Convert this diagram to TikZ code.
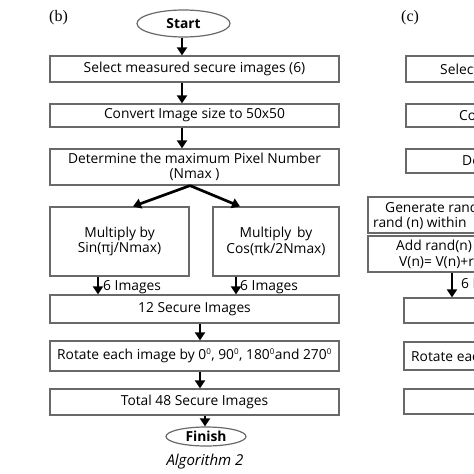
\documentclass[tikz,border=0pt]{standalone}
\usepackage{fontspec}
\setmainfont{Open Sans}
\newfontfamily\serifb{Liberation Serif}
\usetikzlibrary{arrows.meta,shapes.geometric}
\definecolor{boxgray}{RGB}{105,105,105}
\newcommand{\fs}{\fontsize{13.8bp}{15.5bp}\selectfont}
\newcommand{\dg}{\textsuperscript{\fontsize{8bp}{8bp}\selectfont 0}}
\begin{document}
\begin{tikzpicture}[x=1bp,y=-1bp,
  box/.style={draw=boxgray, line width=1.2bp, fill=white, inner sep=0pt, align=center, font=\fs},
  txt/.style={inner sep=0pt, font=\fs, anchor=west},
  panel/.style={inner sep=0pt, anchor=west, font=\serifb\fontsize{16bp}{18bp}\selectfont},
  arr/.style={line width=2.7bp, -{Triangle[width=10bp,length=8bp]}},
  oval/.style={ellipse, draw=boxgray, line width=1.2bp, inner sep=0pt, font=\bfseries\fs}]
\fill[white] (0,0) rectangle (474,474);
\useasboundingbox (0,0) rectangle (474,474);
\clip (0,0) rectangle (474,474);
% ---------- panel (b)
\node[panel] (lb) at (49,18) {(b)};
\node[oval, minimum width=93bp, minimum height=27bp] (start) at (183.5,23.5) {Start};
\node[box, minimum width=289bp, minimum height=26bp] (b1) at (194.5,69) {Select measured secure images (6)};
\node[box, minimum width=289bp, minimum height=23bp] (b2) at (194.5,115.5) {Convert Image size to 50x50};
\node[box, minimum width=289bp, minimum height=36bp] (b3) at (194.5,167) {Determine the maximum Pixel Number\\(Nmax )};
\node[box, minimum width=139bp, minimum height=69bp] (bl) at (119.5,241.5) {Multiply by\\Sin(πj/Nmax)};
\node[box, minimum width=126bp, minimum height=69bp] (br) at (276,241.5) {Multiply\, by\\Cos(πk/2Nmax)};
\node[box, minimum width=289bp, minimum height=28bp] (b4) at (194.5,309) {12 Secure Images};
\node[box, minimum width=289bp, minimum height=30bp] (b5) at (194.5,356) {Rotate each image by 0\dg, 90\dg, 180\dg and 270\dg};
\node[box, minimum width=289bp, minimum height=26bp] (b6) at (194.5,402) {Total 48 Secure Images};
\node[oval, minimum width=80bp, minimum height=19bp] (fin) at (206,436.5) {Finish};
\node[inner sep=0pt, font=\itshape\fontsize{15bp}{17bp}\selectfont] (alg) at (205,462) {Algorithm 2};
\node[txt] (l6a) at (103,287) {6 Images};
\node[txt] (l6b) at (240,287) {6 Images};

\coordinate (x182) at (182,0);
\coordinate (x190) at (190,0);
\coordinate (xl) at (133,0);
\coordinate (xr) at (240,0);
\coordinate (x98) at (98,0);
\coordinate (x236) at (236,0);
\coordinate (x200) at (200,0);
\coordinate (x205) at (205,0);
\draw[arr] (start.south -| x182) -- (x182 |- b1.north);
\draw[arr] (x182 |- b1.south) -- (x182 |- b2.north);
\draw[arr] (x182 |- b2.south) -- (x182 |- b3.north);
\draw[arr] (x190 |- b3.south) -- (xl |- bl.north);
\draw[arr] (x190 |- b3.south) -- (xr |- br.north);
\draw[arr] (x98 |- bl.south) -- (x98 |- b4.north);
\draw[arr] (x236 |- br.south) -- (x236 |- b4.north);
\draw[arr] (x200 |- b4.south) -- (x200 |- b5.north);
\draw[arr] (x200 |- b5.south) -- (x200 |- b6.north);
\draw[arr] (x205 |- b6.south) -- (x205 |- fin.north);

% ---------- panel (c), clipped by the picture edge as in the reference
\node[panel] (lc) at (401,18) {(c)};
\node[box, minimum width=180bp, minimum height=26bp] (r1) at (496,69) {};
\node[box, minimum width=180bp, minimum height=23bp] (r2) at (496,115.5) {};
\node[box, minimum width=180bp, minimum height=24bp] (r3) at (496,161) {};
\node[box, minimum width=220bp, minimum height=36bp] (r4) at (478,215) {};
\node[box, minimum width=220bp, minimum height=36bp] (r5) at (478,254) {};
\node[box, minimum width=180bp, minimum height=25bp] (r6) at (494,310.5) {};
\node[box, minimum width=180bp, minimum height=28bp] (r7) at (494,356) {};
\node[box, minimum width=180bp, minimum height=25bp] (r8) at (494,401.5) {};
\node[txt] (t1) at (440,69) {Select};
\node[txt] (t2) at (459,115.5) {Convert};
\node[txt] (t3) at (462,161) {Determine};
\node[txt] (t4a) at (385,207) {Generate random};
\node[txt] (t4b) at (373,223) {rand (n) within};
\node[txt] (t5a) at (396,246) {Add rand(n) to};
\node[txt] (t5b) at (399,262) {V(n)= V(n)+rand(n)};
\node[txt] (t6) at (461,285) {6 Images};
\node[txt] (t7) at (411,356) {Rotate each};
\coordinate (x452) at (452,0);
\draw[arr] (x452 |- r5.south) -- (x452 |- r6.north);
\end{tikzpicture}
\end{document}
